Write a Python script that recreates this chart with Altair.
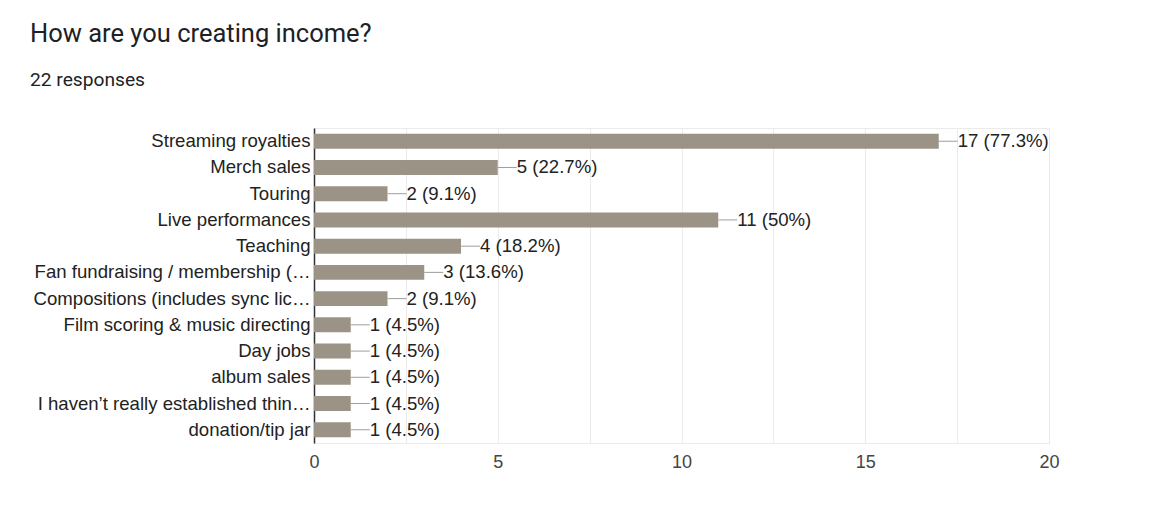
import altair as alt
import pandas as pd

categories = [
    "Streaming royalties",
    "Merch sales",
    "Touring",
    "Live performances",
    "Teaching",
    "Fan fundraising / membership (…",
    "Compositions (includes sync lic…",
    "Film scoring & music directing",
    "Day jobs",
    "album sales",
    "I haven’t really established thin…",
    "donation/tip jar",
]
counts = [17, 5, 2, 11, 4, 3, 2, 1, 1, 1, 1, 1]
percents = ["77.3%", "22.7%", "9.1%", "50%", "18.2%", "13.6%", "9.1%", "4.5%", "4.5%", "4.5%", "4.5%", "4.5%"]
x_ticks = [0, 2.5, 5, 7.5, 10, 12.5, 15, 17.5, 20]

df = pd.DataFrame({
    "category": categories,
    "count": counts,
    "label": [f"{c} ({p})" for c, p in zip(counts, percents)],
})

y_enc = alt.Y("category:N", sort=categories, title=None,
              scale=alt.Scale(paddingInner=0.43, paddingOuter=0.22),
              axis=alt.Axis(ticks=False, domain=True, domainColor="#333333", domainWidth=1.5,
                            labelFont="Liberation Sans", labelFontSize=18.6, labelColor="#222222",
                            labelPadding=4, labelLimit=400, grid=False))
x_enc = alt.X("count:Q", title=None,
              scale=alt.Scale(domain=[0, 20], nice=False),
              axis=alt.Axis(values=x_ticks, ticks=False, domain=False, labelFlush=False,
                            labelExpr="datum.value % 5 == 0 ? datum.label : ''",
                            labelFont="Liberation Sans", labelFontSize=18, labelColor="#444444",
                            labelPadding=10, gridColor="#ebebeb", grid=True))

base = alt.Chart(df)
bars = base.mark_bar(color="#9b9385").encode(x=x_enc, y=y_enc)
leaders = base.mark_rule(color="#9e9e9e", strokeWidth=1, x2Offset=19).encode(
    x="count:Q", x2="count:Q", y=alt.Y("category:N", sort=categories))
texts = base.mark_text(align="left", baseline="middle", dx=19, font="Liberation Sans",
                       fontSize=18.6, color="#222222").encode(
    x="count:Q", y=alt.Y("category:N", sort=categories), text="label:N")

chart = alt.layer(bars, leaders, texts).properties(
    width=735, height=315,
    autosize=alt.AutoSizeParams(type="none"),
    padding={"left": 306, "top": 120, "right": 100, "bottom": 70},
    title=alt.TitleParams(
        text="How are you creating income?",
        subtitle="22 responses",
        anchor="start", frame="group", dx=-284, offset=38,
        font="Roboto", fontSize=25.5, fontWeight="normal", color="#202124",
        subtitleFont="Roboto", subtitleFontSize=19.2, subtitleColor="#202124",
        subtitlePadding=23,
    ),
).configure_view(stroke="#ebebeb")

chart.save("out.html", embed_options={"renderer": "svg", "actions": False})
